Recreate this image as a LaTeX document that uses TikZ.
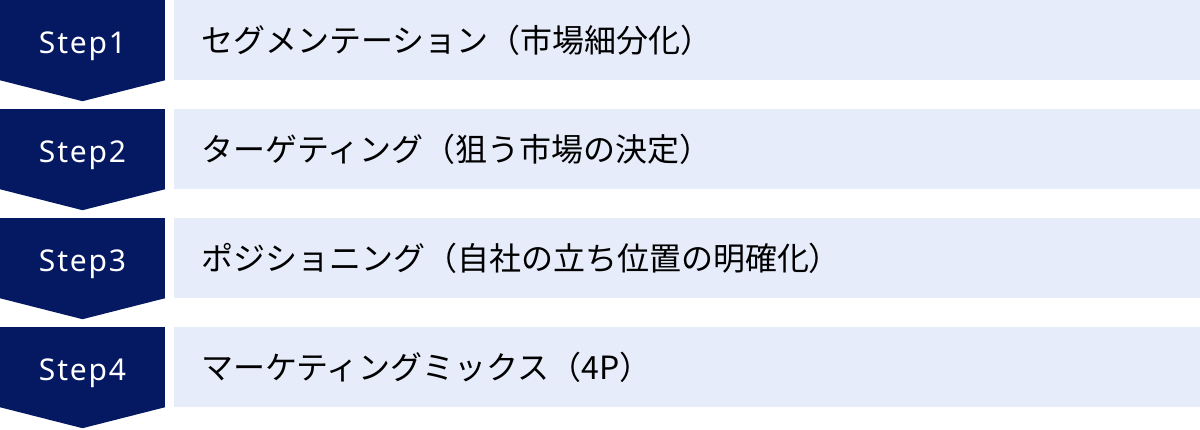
\documentclass[tikz,border=0pt]{standalone}
\usepackage{fontspec}
\setmainfont{Noto Sans CJK JP}
\newfontfamily\stepfont[LetterSpace=6]{Noto Sans}
\definecolor{navy}{RGB}{5,24,98}
\definecolor{paleblue}{RGB}{230,236,250}
\begin{document}
\begin{tikzpicture}[x=1pt,y=-1pt,
				stepbox/.style={fill=navy,text=white,minimum width=165pt,minimum height=80pt,inner sep=0pt,text height=26pt,text depth=0pt,font=\stepfont\fontsize{30}{30}\selectfont},
				labelbox/.style={fill=paleblue,text=black,minimum height=80pt,inner xsep=27pt,inner ysep=0pt,text width=972pt,align=left,font=\fontsize{32}{32}\selectfont}]
\useasboundingbox (0,0) rectangle (1200,429);
\node[stepbox] (s1) at (82.5,40) {Step1};
\node[stepbox] (s2) at (82.5,149) {Step2};
\node[stepbox] (s3) at (82.5,258) {Step3};
\node[stepbox] (s4) at (82.5,367) {Step4};
% chevrons under each step
\fill[navy] (s1.south west) -- ([yshift=-21pt]s1.south) -- (s1.south east) -- cycle;
\fill[navy] (s2.south west) -- ([yshift=-21pt]s2.south) -- (s2.south east) -- cycle;
\fill[navy] (s3.south west) -- ([yshift=-21pt]s3.south) -- (s3.south east) -- cycle;
\fill[navy] (s4.south west) -- ([yshift=-21pt]s4.south) -- (s4.south east) -- cycle;
\node[labelbox] (t1) at (687,40) {セグメンテーション（市場細分化）};
\node[labelbox] (t2) at (687,149) {ターゲティング（狙う市場の決定）};
\node[labelbox] (t3) at (687,258) {ポジショニング（自社の立ち位置の明確化）};
\node[labelbox] (t4) at (687,367) {マーケティングミックス（4P）};
\end{tikzpicture}
\end{document}
